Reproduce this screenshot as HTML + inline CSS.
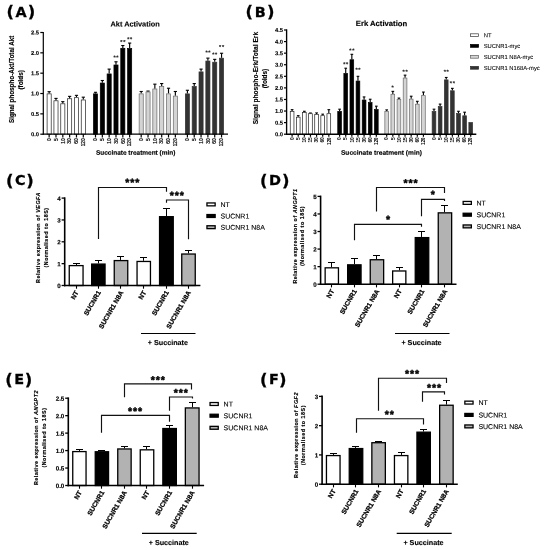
<!DOCTYPE html>
<html lang="en">
<head>
<meta charset="utf-8">
<title>SUCNR1 signalling figure</title>
<style>
html,body{margin:0;padding:0;background:#fff;}
body{width:546px;height:550px;overflow:hidden;}
svg{display:block;font-family:"Liberation Sans",Arial,sans-serif;}
</style>
</head>
<body>
<svg width="546" height="550" viewBox="0 0 546 550">
<rect x="0" y="0" width="546" height="550" fill="#fff"/>
<text font-family='"DejaVu Sans", "Liberation Sans", sans-serif' font-weight="bold" fill="#000" stroke="#000" stroke-width="0.3"><tspan x="6.49" y="17.45" font-size="16.4">(</tspan><tspan x="15.53" y="16.5" font-size="14.4">A</tspan><tspan x="27.69" y="17.45" font-size="16.4">)</tspan></text>
<line x1="49.15" y1="93.52" x2="49.15" y2="91.69" stroke="#000" stroke-width="1.15" stroke-linecap="butt"/>
<line x1="47.55" y1="91.69" x2="50.75" y2="91.69" stroke="#000" stroke-width="1.1" stroke-linecap="butt"/>
<rect x="47.1" y="93.87" width="4.1" height="40.33" fill="#fff" stroke="#222" stroke-width="0.7"/>
<line x1="49.15" y1="134.2" x2="49.15" y2="137.5" stroke="#000" stroke-width="1.2" stroke-linecap="butt"/>
<text x="0" y="0" transform="translate(50.88 138.3) rotate(-90)" font-size="4.8" font-weight="normal" text-anchor="end" fill="#000" stroke="#000" stroke-width="0.2">0</text>
<line x1="55.98" y1="100.44" x2="55.98" y2="98.4" stroke="#000" stroke-width="1.15" stroke-linecap="butt"/>
<line x1="54.38" y1="98.4" x2="57.58" y2="98.4" stroke="#000" stroke-width="1.1" stroke-linecap="butt"/>
<rect x="53.93" y="100.79" width="4.1" height="33.41" fill="#fff" stroke="#222" stroke-width="0.7"/>
<line x1="55.98" y1="134.2" x2="55.98" y2="137.5" stroke="#000" stroke-width="1.2" stroke-linecap="butt"/>
<text x="0" y="0" transform="translate(57.71 138.3) rotate(-90)" font-size="4.8" font-weight="normal" text-anchor="end" fill="#000" stroke="#000" stroke-width="0.2">5</text>
<line x1="62.81" y1="103.45" x2="62.81" y2="101.66" stroke="#000" stroke-width="1.15" stroke-linecap="butt"/>
<line x1="61.21" y1="101.66" x2="64.41" y2="101.66" stroke="#000" stroke-width="1.1" stroke-linecap="butt"/>
<rect x="60.76" y="103.8" width="4.1" height="30.4" fill="#fff" stroke="#222" stroke-width="0.7"/>
<line x1="62.81" y1="134.2" x2="62.81" y2="137.5" stroke="#000" stroke-width="1.2" stroke-linecap="butt"/>
<text x="0" y="0" transform="translate(64.54 138.3) rotate(-90)" font-size="4.8" font-weight="normal" text-anchor="end" fill="#000" stroke="#000" stroke-width="0.2">10</text>
<line x1="69.64" y1="98.4" x2="69.64" y2="96.37" stroke="#000" stroke-width="1.15" stroke-linecap="butt"/>
<line x1="68.04" y1="96.37" x2="71.24" y2="96.37" stroke="#000" stroke-width="1.1" stroke-linecap="butt"/>
<rect x="67.59" y="98.75" width="4.1" height="35.45" fill="#fff" stroke="#222" stroke-width="0.7"/>
<line x1="69.64" y1="134.2" x2="69.64" y2="137.5" stroke="#000" stroke-width="1.2" stroke-linecap="butt"/>
<text x="0" y="0" transform="translate(71.37 138.3) rotate(-90)" font-size="4.8" font-weight="normal" text-anchor="end" fill="#000" stroke="#000" stroke-width="0.2">30</text>
<line x1="76.47" y1="97.34" x2="76.47" y2="95.35" stroke="#000" stroke-width="1.15" stroke-linecap="butt"/>
<line x1="74.87" y1="95.35" x2="78.07" y2="95.35" stroke="#000" stroke-width="1.1" stroke-linecap="butt"/>
<rect x="74.42" y="97.69" width="4.1" height="36.51" fill="#fff" stroke="#222" stroke-width="0.7"/>
<line x1="76.47" y1="134.2" x2="76.47" y2="137.5" stroke="#000" stroke-width="1.2" stroke-linecap="butt"/>
<text x="0" y="0" transform="translate(78.2 138.3) rotate(-90)" font-size="4.8" font-weight="normal" text-anchor="end" fill="#000" stroke="#000" stroke-width="0.2">60</text>
<line x1="83.3" y1="99.62" x2="83.3" y2="97.18" stroke="#000" stroke-width="1.15" stroke-linecap="butt"/>
<line x1="81.7" y1="97.18" x2="84.9" y2="97.18" stroke="#000" stroke-width="1.1" stroke-linecap="butt"/>
<rect x="81.25" y="99.97" width="4.1" height="34.23" fill="#fff" stroke="#222" stroke-width="0.7"/>
<line x1="83.3" y1="134.2" x2="83.3" y2="137.5" stroke="#000" stroke-width="1.2" stroke-linecap="butt"/>
<text x="0" y="0" transform="translate(85.03 138.3) rotate(-90)" font-size="4.8" font-weight="normal" text-anchor="end" fill="#000" stroke="#000" stroke-width="0.2">120</text>
<line x1="95.5" y1="93.52" x2="95.5" y2="92.3" stroke="#000" stroke-width="1.15" stroke-linecap="butt"/>
<line x1="93.9" y1="92.3" x2="97.1" y2="92.3" stroke="#000" stroke-width="1.1" stroke-linecap="butt"/>
<rect x="93.45" y="93.87" width="4.1" height="40.33" fill="#000" stroke="#000" stroke-width="0.7"/>
<line x1="95.5" y1="134.2" x2="95.5" y2="137.5" stroke="#000" stroke-width="1.2" stroke-linecap="butt"/>
<text x="0" y="0" transform="translate(97.23 138.3) rotate(-90)" font-size="4.8" font-weight="normal" text-anchor="end" fill="#000" stroke="#000" stroke-width="0.2">0</text>
<line x1="102.33" y1="82.7" x2="102.33" y2="80.5" stroke="#000" stroke-width="1.15" stroke-linecap="butt"/>
<line x1="100.73" y1="80.5" x2="103.93" y2="80.5" stroke="#000" stroke-width="1.1" stroke-linecap="butt"/>
<rect x="100.28" y="83.05" width="4.1" height="51.15" fill="#000" stroke="#000" stroke-width="0.7"/>
<line x1="102.33" y1="134.2" x2="102.33" y2="137.5" stroke="#000" stroke-width="1.2" stroke-linecap="butt"/>
<text x="0" y="0" transform="translate(104.06 138.3) rotate(-90)" font-size="4.8" font-weight="normal" text-anchor="end" fill="#000" stroke="#000" stroke-width="0.2">5</text>
<line x1="109.16" y1="73.59" x2="109.16" y2="69.11" stroke="#000" stroke-width="1.15" stroke-linecap="butt"/>
<line x1="107.56" y1="69.11" x2="110.76" y2="69.11" stroke="#000" stroke-width="1.1" stroke-linecap="butt"/>
<rect x="107.11" y="73.94" width="4.1" height="60.26" fill="#000" stroke="#000" stroke-width="0.7"/>
<line x1="109.16" y1="134.2" x2="109.16" y2="137.5" stroke="#000" stroke-width="1.2" stroke-linecap="butt"/>
<text x="0" y="0" transform="translate(110.89 138.3) rotate(-90)" font-size="4.8" font-weight="normal" text-anchor="end" fill="#000" stroke="#000" stroke-width="0.2">10</text>
<line x1="115.99" y1="64.64" x2="115.99" y2="61.79" stroke="#000" stroke-width="1.15" stroke-linecap="butt"/>
<line x1="114.39" y1="61.79" x2="117.59" y2="61.79" stroke="#000" stroke-width="1.1" stroke-linecap="butt"/>
<rect x="113.94" y="64.99" width="4.1" height="69.21" fill="#000" stroke="#000" stroke-width="0.7"/>
<line x1="115.99" y1="134.2" x2="115.99" y2="137.5" stroke="#000" stroke-width="1.2" stroke-linecap="butt"/>
<text x="0" y="0" transform="translate(117.72 138.3) rotate(-90)" font-size="4.8" font-weight="normal" text-anchor="end" fill="#000" stroke="#000" stroke-width="0.2">30</text>
<line x1="122.82" y1="47.96" x2="122.82" y2="45.52" stroke="#000" stroke-width="1.15" stroke-linecap="butt"/>
<line x1="121.22" y1="45.52" x2="124.42" y2="45.52" stroke="#000" stroke-width="1.1" stroke-linecap="butt"/>
<rect x="120.77" y="48.31" width="4.1" height="85.89" fill="#000" stroke="#000" stroke-width="0.7"/>
<line x1="122.82" y1="134.2" x2="122.82" y2="137.5" stroke="#000" stroke-width="1.2" stroke-linecap="butt"/>
<text x="0" y="0" transform="translate(124.55 138.3) rotate(-90)" font-size="4.8" font-weight="normal" text-anchor="end" fill="#000" stroke="#000" stroke-width="0.2">60</text>
<line x1="129.65" y1="48.16" x2="129.65" y2="43.08" stroke="#000" stroke-width="1.15" stroke-linecap="butt"/>
<line x1="128.05" y1="43.08" x2="131.25" y2="43.08" stroke="#000" stroke-width="1.1" stroke-linecap="butt"/>
<rect x="127.6" y="48.51" width="4.1" height="85.69" fill="#000" stroke="#000" stroke-width="0.7"/>
<line x1="129.65" y1="134.2" x2="129.65" y2="137.5" stroke="#000" stroke-width="1.2" stroke-linecap="butt"/>
<text x="0" y="0" transform="translate(131.38 138.3) rotate(-90)" font-size="4.8" font-weight="normal" text-anchor="end" fill="#000" stroke="#000" stroke-width="0.2">120</text>
<line x1="141.2" y1="93.52" x2="141.2" y2="91.49" stroke="#000" stroke-width="1.15" stroke-linecap="butt"/>
<line x1="139.6" y1="91.49" x2="142.8" y2="91.49" stroke="#000" stroke-width="1.1" stroke-linecap="butt"/>
<rect x="139.15" y="93.87" width="4.1" height="40.33" fill="#d4d4d4" stroke="#6a6a6a" stroke-width="0.7"/>
<line x1="141.2" y1="134.2" x2="141.2" y2="137.5" stroke="#000" stroke-width="1.2" stroke-linecap="butt"/>
<text x="0" y="0" transform="translate(142.93 138.3) rotate(-90)" font-size="4.8" font-weight="normal" text-anchor="end" fill="#000" stroke="#000" stroke-width="0.2">0</text>
<line x1="148.03" y1="91.61" x2="148.03" y2="91.08" stroke="#000" stroke-width="1.15" stroke-linecap="butt"/>
<line x1="146.43" y1="91.08" x2="149.63" y2="91.08" stroke="#000" stroke-width="1.1" stroke-linecap="butt"/>
<rect x="145.98" y="91.96" width="4.1" height="42.24" fill="#d4d4d4" stroke="#6a6a6a" stroke-width="0.7"/>
<line x1="148.03" y1="134.2" x2="148.03" y2="137.5" stroke="#000" stroke-width="1.2" stroke-linecap="butt"/>
<text x="0" y="0" transform="translate(149.76 138.3) rotate(-90)" font-size="4.8" font-weight="normal" text-anchor="end" fill="#000" stroke="#000" stroke-width="0.2">5</text>
<line x1="154.86" y1="88.64" x2="154.86" y2="84.16" stroke="#000" stroke-width="1.15" stroke-linecap="butt"/>
<line x1="153.26" y1="84.16" x2="156.46" y2="84.16" stroke="#000" stroke-width="1.1" stroke-linecap="butt"/>
<rect x="152.81" y="88.99" width="4.1" height="45.21" fill="#d4d4d4" stroke="#6a6a6a" stroke-width="0.7"/>
<line x1="154.86" y1="134.2" x2="154.86" y2="137.5" stroke="#000" stroke-width="1.2" stroke-linecap="butt"/>
<text x="0" y="0" transform="translate(156.59 138.3) rotate(-90)" font-size="4.8" font-weight="normal" text-anchor="end" fill="#000" stroke="#000" stroke-width="0.2">10</text>
<line x1="161.69" y1="86.2" x2="161.69" y2="83.55" stroke="#000" stroke-width="1.15" stroke-linecap="butt"/>
<line x1="160.09" y1="83.55" x2="163.29" y2="83.55" stroke="#000" stroke-width="1.1" stroke-linecap="butt"/>
<rect x="159.64" y="86.55" width="4.1" height="47.65" fill="#d4d4d4" stroke="#6a6a6a" stroke-width="0.7"/>
<line x1="161.69" y1="134.2" x2="161.69" y2="137.5" stroke="#000" stroke-width="1.2" stroke-linecap="butt"/>
<text x="0" y="0" transform="translate(163.42 138.3) rotate(-90)" font-size="4.8" font-weight="normal" text-anchor="end" fill="#000" stroke="#000" stroke-width="0.2">30</text>
<line x1="168.52" y1="93.52" x2="168.52" y2="88.23" stroke="#000" stroke-width="1.15" stroke-linecap="butt"/>
<line x1="166.92" y1="88.23" x2="170.12" y2="88.23" stroke="#000" stroke-width="1.1" stroke-linecap="butt"/>
<rect x="166.47" y="93.87" width="4.1" height="40.33" fill="#d4d4d4" stroke="#6a6a6a" stroke-width="0.7"/>
<line x1="168.52" y1="134.2" x2="168.52" y2="137.5" stroke="#000" stroke-width="1.2" stroke-linecap="butt"/>
<text x="0" y="0" transform="translate(170.25 138.3) rotate(-90)" font-size="4.8" font-weight="normal" text-anchor="end" fill="#000" stroke="#000" stroke-width="0.2">60</text>
<line x1="175.35" y1="95.76" x2="175.35" y2="91.49" stroke="#000" stroke-width="1.15" stroke-linecap="butt"/>
<line x1="173.75" y1="91.49" x2="176.95" y2="91.49" stroke="#000" stroke-width="1.1" stroke-linecap="butt"/>
<rect x="173.3" y="96.11" width="4.1" height="38.09" fill="#d4d4d4" stroke="#6a6a6a" stroke-width="0.7"/>
<line x1="175.35" y1="134.2" x2="175.35" y2="137.5" stroke="#000" stroke-width="1.2" stroke-linecap="butt"/>
<text x="0" y="0" transform="translate(177.08 138.3) rotate(-90)" font-size="4.8" font-weight="normal" text-anchor="end" fill="#000" stroke="#000" stroke-width="0.2">120</text>
<line x1="187.4" y1="93.52" x2="187.4" y2="90.27" stroke="#000" stroke-width="1.15" stroke-linecap="butt"/>
<line x1="185.8" y1="90.27" x2="189" y2="90.27" stroke="#000" stroke-width="1.1" stroke-linecap="butt"/>
<rect x="185.35" y="93.87" width="4.1" height="40.33" fill="#333" stroke="#333" stroke-width="0.7"/>
<line x1="187.4" y1="134.2" x2="187.4" y2="137.5" stroke="#000" stroke-width="1.2" stroke-linecap="butt"/>
<text x="0" y="0" transform="translate(189.13 138.3) rotate(-90)" font-size="4.8" font-weight="normal" text-anchor="end" fill="#000" stroke="#000" stroke-width="0.2">0</text>
<line x1="194.23" y1="86.2" x2="194.23" y2="83.55" stroke="#000" stroke-width="1.15" stroke-linecap="butt"/>
<line x1="192.63" y1="83.55" x2="195.83" y2="83.55" stroke="#000" stroke-width="1.1" stroke-linecap="butt"/>
<rect x="192.18" y="86.55" width="4.1" height="47.65" fill="#333" stroke="#333" stroke-width="0.7"/>
<line x1="194.23" y1="134.2" x2="194.23" y2="137.5" stroke="#000" stroke-width="1.2" stroke-linecap="butt"/>
<text x="0" y="0" transform="translate(195.96 138.3) rotate(-90)" font-size="4.8" font-weight="normal" text-anchor="end" fill="#000" stroke="#000" stroke-width="0.2">5</text>
<line x1="201.06" y1="71.55" x2="201.06" y2="69.11" stroke="#000" stroke-width="1.15" stroke-linecap="butt"/>
<line x1="199.46" y1="69.11" x2="202.66" y2="69.11" stroke="#000" stroke-width="1.1" stroke-linecap="butt"/>
<rect x="199.01" y="71.9" width="4.1" height="62.3" fill="#333" stroke="#333" stroke-width="0.7"/>
<line x1="201.06" y1="134.2" x2="201.06" y2="137.5" stroke="#000" stroke-width="1.2" stroke-linecap="butt"/>
<text x="0" y="0" transform="translate(202.79 138.3) rotate(-90)" font-size="4.8" font-weight="normal" text-anchor="end" fill="#000" stroke="#000" stroke-width="0.2">10</text>
<line x1="207.89" y1="60.69" x2="207.89" y2="58.13" stroke="#000" stroke-width="1.15" stroke-linecap="butt"/>
<line x1="206.29" y1="58.13" x2="209.49" y2="58.13" stroke="#000" stroke-width="1.1" stroke-linecap="butt"/>
<rect x="205.84" y="61.04" width="4.1" height="73.16" fill="#333" stroke="#333" stroke-width="0.7"/>
<line x1="207.89" y1="134.2" x2="207.89" y2="137.5" stroke="#000" stroke-width="1.2" stroke-linecap="butt"/>
<text x="0" y="0" transform="translate(209.62 138.3) rotate(-90)" font-size="4.8" font-weight="normal" text-anchor="end" fill="#000" stroke="#000" stroke-width="0.2">30</text>
<line x1="214.72" y1="61.87" x2="214.72" y2="59.35" stroke="#000" stroke-width="1.15" stroke-linecap="butt"/>
<line x1="213.12" y1="59.35" x2="216.32" y2="59.35" stroke="#000" stroke-width="1.1" stroke-linecap="butt"/>
<rect x="212.67" y="62.22" width="4.1" height="71.98" fill="#333" stroke="#333" stroke-width="0.7"/>
<line x1="214.72" y1="134.2" x2="214.72" y2="137.5" stroke="#000" stroke-width="1.2" stroke-linecap="butt"/>
<text x="0" y="0" transform="translate(216.45 138.3) rotate(-90)" font-size="4.8" font-weight="normal" text-anchor="end" fill="#000" stroke="#000" stroke-width="0.2">60</text>
<line x1="221.55" y1="57.84" x2="221.55" y2="53.25" stroke="#000" stroke-width="1.15" stroke-linecap="butt"/>
<line x1="219.95" y1="53.25" x2="223.15" y2="53.25" stroke="#000" stroke-width="1.1" stroke-linecap="butt"/>
<rect x="219.5" y="58.19" width="4.1" height="76.01" fill="#333" stroke="#333" stroke-width="0.7"/>
<line x1="221.55" y1="134.2" x2="221.55" y2="137.5" stroke="#000" stroke-width="1.2" stroke-linecap="butt"/>
<text x="0" y="0" transform="translate(223.28 138.3) rotate(-90)" font-size="4.8" font-weight="normal" text-anchor="end" fill="#000" stroke="#000" stroke-width="0.2">120</text>
<line x1="43.3" y1="31.9" x2="43.3" y2="134.8" stroke="#000" stroke-width="1.2" stroke-linecap="butt"/>
<line x1="42.7" y1="134.2" x2="228" y2="134.2" stroke="#000" stroke-width="1.2" stroke-linecap="butt"/>
<line x1="40.3" y1="134.2" x2="43.3" y2="134.2" stroke="#000" stroke-width="1.2" stroke-linecap="butt"/>
<text x="0" y="0" transform="translate(39.1 136.29) rotate(0.1)" font-size="5.8" font-weight="bold" text-anchor="end" fill="#000" stroke="#000" stroke-width="0.1">0.0</text>
<line x1="40.3" y1="113.86" x2="43.3" y2="113.86" stroke="#000" stroke-width="1.2" stroke-linecap="butt"/>
<text x="0" y="0" transform="translate(39.1 115.95) rotate(0.1)" font-size="5.8" font-weight="bold" text-anchor="end" fill="#000" stroke="#000" stroke-width="0.1">0.5</text>
<line x1="40.3" y1="93.52" x2="43.3" y2="93.52" stroke="#000" stroke-width="1.2" stroke-linecap="butt"/>
<text x="0" y="0" transform="translate(39.1 95.61) rotate(0.1)" font-size="5.8" font-weight="bold" text-anchor="end" fill="#000" stroke="#000" stroke-width="0.1">1.0</text>
<line x1="40.3" y1="73.18" x2="43.3" y2="73.18" stroke="#000" stroke-width="1.2" stroke-linecap="butt"/>
<text x="0" y="0" transform="translate(39.1 75.27) rotate(0.1)" font-size="5.8" font-weight="bold" text-anchor="end" fill="#000" stroke="#000" stroke-width="0.1">1.5</text>
<line x1="40.3" y1="52.84" x2="43.3" y2="52.84" stroke="#000" stroke-width="1.2" stroke-linecap="butt"/>
<text x="0" y="0" transform="translate(39.1 54.93) rotate(0.1)" font-size="5.8" font-weight="bold" text-anchor="end" fill="#000" stroke="#000" stroke-width="0.1">2.0</text>
<line x1="40.3" y1="32.5" x2="43.3" y2="32.5" stroke="#000" stroke-width="1.2" stroke-linecap="butt"/>
<text x="0" y="0" transform="translate(39.1 34.59) rotate(0.1)" font-size="5.8" font-weight="bold" text-anchor="end" fill="#000" stroke="#000" stroke-width="0.1">2.5</text>
<text x="0" y="0" transform="translate(135.1 26.5) rotate(0.1)" font-size="7.35" font-weight="bold" text-anchor="middle" fill="#000" stroke="#000" stroke-width="0.14">Akt Activation</text>
<text x="0" y="0" transform="translate(14.2 79.35) rotate(-90)" font-size="6.3" font-weight="bold" text-anchor="middle" fill="#000" stroke="#000" stroke-width="0.14">Signal phospho-Akt/Total Akt</text>
<text x="0" y="0" transform="translate(23 79.85) rotate(-90)" font-size="6.3" font-weight="bold" text-anchor="middle" fill="#000" stroke="#000" stroke-width="0.14">(folds)</text>
<text x="0" y="0" transform="translate(135.65 154.7) rotate(0.1)" font-size="6.48" font-weight="bold" text-anchor="middle" fill="#000" stroke="#000" stroke-width="0.14">Succinate treatment (min)</text>
<text x="0" y="0" transform="translate(116.34 59.2) rotate(0.1)" font-size="5.5" font-weight="bold" text-anchor="middle" fill="#111" letter-spacing="0.7" stroke="#111" stroke-width="0.15">**</text>
<text x="0" y="0" transform="translate(123.17 43.8) rotate(0.1)" font-size="5.5" font-weight="bold" text-anchor="middle" fill="#111" letter-spacing="0.7" stroke="#111" stroke-width="0.15">**</text>
<text x="0" y="0" transform="translate(130 41.1) rotate(0.1)" font-size="5.5" font-weight="bold" text-anchor="middle" fill="#111" letter-spacing="0.7" stroke="#111" stroke-width="0.15">**</text>
<text x="0" y="0" transform="translate(208.24 54.2) rotate(0.1)" font-size="5.5" font-weight="bold" text-anchor="middle" fill="#111" letter-spacing="0.7" stroke="#111" stroke-width="0.15">**</text>
<text x="0" y="0" transform="translate(215.07 56.2) rotate(0.1)" font-size="5.5" font-weight="bold" text-anchor="middle" fill="#111" letter-spacing="0.7" stroke="#111" stroke-width="0.15">**</text>
<text x="0" y="0" transform="translate(221.9 48.7) rotate(0.1)" font-size="5.5" font-weight="bold" text-anchor="middle" fill="#111" letter-spacing="0.7" stroke="#111" stroke-width="0.15">**</text>
<text font-family='"DejaVu Sans", "Liberation Sans", sans-serif' font-weight="bold" fill="#000" stroke="#000" stroke-width="0.3"><tspan x="245.59" y="17.45" font-size="16.4">(</tspan><tspan x="254.68" y="16.5" font-size="14.4">B</tspan><tspan x="267.09" y="17.45" font-size="16.4">)</tspan></text>
<line x1="292.1" y1="111.04" x2="292.1" y2="109.66" stroke="#000" stroke-width="1.15" stroke-linecap="butt"/>
<line x1="290.75" y1="109.66" x2="293.45" y2="109.66" stroke="#000" stroke-width="1.1" stroke-linecap="butt"/>
<rect x="290.25" y="111.39" width="3.7" height="22.81" fill="#fff" stroke="#222" stroke-width="0.7"/>
<line x1="292.1" y1="134.2" x2="292.1" y2="136.8" stroke="#000" stroke-width="1.2" stroke-linecap="butt"/>
<text x="0" y="0" transform="translate(293.86 137.7) rotate(-90)" font-size="4.9" font-weight="bold" text-anchor="end" fill="#000" letter-spacing="-0.3" stroke="none">0</text>
<line x1="298.22" y1="116.83" x2="298.22" y2="115.68" stroke="#000" stroke-width="1.15" stroke-linecap="butt"/>
<line x1="296.87" y1="115.68" x2="299.57" y2="115.68" stroke="#000" stroke-width="1.1" stroke-linecap="butt"/>
<rect x="296.37" y="117.18" width="3.7" height="17.02" fill="#fff" stroke="#222" stroke-width="0.7"/>
<line x1="298.22" y1="134.2" x2="298.22" y2="136.8" stroke="#000" stroke-width="1.2" stroke-linecap="butt"/>
<text x="0" y="0" transform="translate(299.98 137.7) rotate(-90)" font-size="4.9" font-weight="bold" text-anchor="end" fill="#000" letter-spacing="-0.3" stroke="none">5</text>
<line x1="304.34" y1="112.2" x2="304.34" y2="111.28" stroke="#000" stroke-width="1.15" stroke-linecap="butt"/>
<line x1="302.99" y1="111.28" x2="305.69" y2="111.28" stroke="#000" stroke-width="1.1" stroke-linecap="butt"/>
<rect x="302.49" y="112.55" width="3.7" height="21.65" fill="#fff" stroke="#222" stroke-width="0.7"/>
<line x1="304.34" y1="134.2" x2="304.34" y2="136.8" stroke="#000" stroke-width="1.2" stroke-linecap="butt"/>
<text x="0" y="0" transform="translate(306.1 137.7) rotate(-90)" font-size="4.9" font-weight="bold" text-anchor="end" fill="#000" letter-spacing="-0.3" stroke="none">10</text>
<line x1="310.46" y1="113.36" x2="310.46" y2="113.01" stroke="#000" stroke-width="1.15" stroke-linecap="butt"/>
<line x1="309.11" y1="113.01" x2="311.81" y2="113.01" stroke="#000" stroke-width="1.1" stroke-linecap="butt"/>
<rect x="308.61" y="113.71" width="3.7" height="20.49" fill="#fff" stroke="#222" stroke-width="0.7"/>
<line x1="310.46" y1="134.2" x2="310.46" y2="136.8" stroke="#000" stroke-width="1.2" stroke-linecap="butt"/>
<text x="0" y="0" transform="translate(312.22 137.7) rotate(-90)" font-size="4.9" font-weight="bold" text-anchor="end" fill="#000" letter-spacing="-0.3" stroke="none">15</text>
<line x1="316.58" y1="114.05" x2="316.58" y2="112.9" stroke="#000" stroke-width="1.15" stroke-linecap="butt"/>
<line x1="315.23" y1="112.9" x2="317.93" y2="112.9" stroke="#000" stroke-width="1.1" stroke-linecap="butt"/>
<rect x="314.73" y="114.4" width="3.7" height="19.8" fill="#fff" stroke="#222" stroke-width="0.7"/>
<line x1="316.58" y1="134.2" x2="316.58" y2="136.8" stroke="#000" stroke-width="1.2" stroke-linecap="butt"/>
<text x="0" y="0" transform="translate(318.34 137.7) rotate(-90)" font-size="4.9" font-weight="bold" text-anchor="end" fill="#000" letter-spacing="-0.3" stroke="none">30</text>
<line x1="322.7" y1="115.33" x2="322.7" y2="114.17" stroke="#000" stroke-width="1.15" stroke-linecap="butt"/>
<line x1="321.35" y1="114.17" x2="324.05" y2="114.17" stroke="#000" stroke-width="1.1" stroke-linecap="butt"/>
<rect x="320.85" y="115.68" width="3.7" height="18.52" fill="#fff" stroke="#222" stroke-width="0.7"/>
<line x1="322.7" y1="134.2" x2="322.7" y2="136.8" stroke="#000" stroke-width="1.2" stroke-linecap="butt"/>
<text x="0" y="0" transform="translate(324.46 137.7) rotate(-90)" font-size="4.9" font-weight="bold" text-anchor="end" fill="#000" letter-spacing="-0.3" stroke="none">60</text>
<line x1="328.82" y1="113.36" x2="328.82" y2="109.66" stroke="#000" stroke-width="1.15" stroke-linecap="butt"/>
<line x1="327.47" y1="109.66" x2="330.17" y2="109.66" stroke="#000" stroke-width="1.1" stroke-linecap="butt"/>
<rect x="326.97" y="113.71" width="3.7" height="20.49" fill="#fff" stroke="#222" stroke-width="0.7"/>
<line x1="328.82" y1="134.2" x2="328.82" y2="136.8" stroke="#000" stroke-width="1.2" stroke-linecap="butt"/>
<text x="0" y="0" transform="translate(330.58 137.7) rotate(-90)" font-size="4.9" font-weight="bold" text-anchor="end" fill="#000" letter-spacing="-0.3" stroke="none">120</text>
<line x1="339.6" y1="111.04" x2="339.6" y2="109.19" stroke="#000" stroke-width="1.15" stroke-linecap="butt"/>
<line x1="338.25" y1="109.19" x2="340.95" y2="109.19" stroke="#000" stroke-width="1.1" stroke-linecap="butt"/>
<rect x="337.75" y="111.39" width="3.7" height="22.81" fill="#000" stroke="#000" stroke-width="0.7"/>
<line x1="339.6" y1="134.2" x2="339.6" y2="136.8" stroke="#000" stroke-width="1.2" stroke-linecap="butt"/>
<text x="0" y="0" transform="translate(341.36 137.7) rotate(-90)" font-size="4.9" font-weight="bold" text-anchor="end" fill="#000" letter-spacing="-0.3" stroke="none">0</text>
<line x1="345.72" y1="73.07" x2="345.72" y2="68.21" stroke="#000" stroke-width="1.15" stroke-linecap="butt"/>
<line x1="344.37" y1="68.21" x2="347.07" y2="68.21" stroke="#000" stroke-width="1.1" stroke-linecap="butt"/>
<rect x="343.87" y="73.42" width="3.7" height="60.78" fill="#000" stroke="#000" stroke-width="0.7"/>
<line x1="345.72" y1="134.2" x2="345.72" y2="136.8" stroke="#000" stroke-width="1.2" stroke-linecap="butt"/>
<text x="0" y="0" transform="translate(347.48 137.7) rotate(-90)" font-size="4.9" font-weight="bold" text-anchor="end" fill="#000" letter-spacing="-0.3" stroke="none">5</text>
<line x1="351.84" y1="59.41" x2="351.84" y2="54.31" stroke="#000" stroke-width="1.15" stroke-linecap="butt"/>
<line x1="350.49" y1="54.31" x2="353.19" y2="54.31" stroke="#000" stroke-width="1.1" stroke-linecap="butt"/>
<rect x="349.99" y="59.76" width="3.7" height="74.44" fill="#000" stroke="#000" stroke-width="0.7"/>
<line x1="351.84" y1="134.2" x2="351.84" y2="136.8" stroke="#000" stroke-width="1.2" stroke-linecap="butt"/>
<text x="0" y="0" transform="translate(353.6 137.7) rotate(-90)" font-size="4.9" font-weight="bold" text-anchor="end" fill="#000" letter-spacing="-0.3" stroke="none">10</text>
<line x1="357.96" y1="80.71" x2="357.96" y2="76.31" stroke="#000" stroke-width="1.15" stroke-linecap="butt"/>
<line x1="356.61" y1="76.31" x2="359.31" y2="76.31" stroke="#000" stroke-width="1.1" stroke-linecap="butt"/>
<rect x="356.11" y="81.06" width="3.7" height="53.14" fill="#000" stroke="#000" stroke-width="0.7"/>
<line x1="357.96" y1="134.2" x2="357.96" y2="136.8" stroke="#000" stroke-width="1.2" stroke-linecap="butt"/>
<text x="0" y="0" transform="translate(359.72 137.7) rotate(-90)" font-size="4.9" font-weight="bold" text-anchor="end" fill="#000" letter-spacing="-0.3" stroke="none">15</text>
<line x1="364.08" y1="99.7" x2="364.08" y2="96.92" stroke="#000" stroke-width="1.15" stroke-linecap="butt"/>
<line x1="362.73" y1="96.92" x2="365.43" y2="96.92" stroke="#000" stroke-width="1.1" stroke-linecap="butt"/>
<rect x="362.23" y="100.05" width="3.7" height="34.15" fill="#000" stroke="#000" stroke-width="0.7"/>
<line x1="364.08" y1="134.2" x2="364.08" y2="136.8" stroke="#000" stroke-width="1.2" stroke-linecap="butt"/>
<text x="0" y="0" transform="translate(365.84 137.7) rotate(-90)" font-size="4.9" font-weight="bold" text-anchor="end" fill="#000" letter-spacing="-0.3" stroke="none">30</text>
<line x1="370.2" y1="102.25" x2="370.2" y2="99.24" stroke="#000" stroke-width="1.15" stroke-linecap="butt"/>
<line x1="368.85" y1="99.24" x2="371.55" y2="99.24" stroke="#000" stroke-width="1.1" stroke-linecap="butt"/>
<rect x="368.35" y="102.6" width="3.7" height="31.6" fill="#000" stroke="#000" stroke-width="0.7"/>
<line x1="370.2" y1="134.2" x2="370.2" y2="136.8" stroke="#000" stroke-width="1.2" stroke-linecap="butt"/>
<text x="0" y="0" transform="translate(371.96 137.7) rotate(-90)" font-size="4.9" font-weight="bold" text-anchor="end" fill="#000" letter-spacing="-0.3" stroke="none">60</text>
<line x1="376.32" y1="109.19" x2="376.32" y2="106.18" stroke="#000" stroke-width="1.15" stroke-linecap="butt"/>
<line x1="374.97" y1="106.18" x2="377.67" y2="106.18" stroke="#000" stroke-width="1.1" stroke-linecap="butt"/>
<rect x="374.47" y="109.54" width="3.7" height="24.66" fill="#000" stroke="#000" stroke-width="0.7"/>
<line x1="376.32" y1="134.2" x2="376.32" y2="136.8" stroke="#000" stroke-width="1.2" stroke-linecap="butt"/>
<text x="0" y="0" transform="translate(378.08 137.7) rotate(-90)" font-size="4.9" font-weight="bold" text-anchor="end" fill="#000" letter-spacing="-0.3" stroke="none">120</text>
<line x1="386.7" y1="111.04" x2="386.7" y2="109.89" stroke="#000" stroke-width="1.15" stroke-linecap="butt"/>
<line x1="385.35" y1="109.89" x2="388.05" y2="109.89" stroke="#000" stroke-width="1.1" stroke-linecap="butt"/>
<rect x="384.85" y="111.39" width="3.7" height="22.81" fill="#d4d4d4" stroke="#6a6a6a" stroke-width="0.7"/>
<line x1="386.7" y1="134.2" x2="386.7" y2="136.8" stroke="#000" stroke-width="1.2" stroke-linecap="butt"/>
<text x="0" y="0" transform="translate(388.46 137.7) rotate(-90)" font-size="4.9" font-weight="bold" text-anchor="end" fill="#000" letter-spacing="-0.3" stroke="none">0</text>
<line x1="392.82" y1="93.91" x2="392.82" y2="91.36" stroke="#000" stroke-width="1.15" stroke-linecap="butt"/>
<line x1="391.47" y1="91.36" x2="394.17" y2="91.36" stroke="#000" stroke-width="1.1" stroke-linecap="butt"/>
<rect x="390.97" y="94.26" width="3.7" height="39.94" fill="#d4d4d4" stroke="#6a6a6a" stroke-width="0.7"/>
<line x1="392.82" y1="134.2" x2="392.82" y2="136.8" stroke="#000" stroke-width="1.2" stroke-linecap="butt"/>
<text x="0" y="0" transform="translate(394.58 137.7) rotate(-90)" font-size="4.9" font-weight="bold" text-anchor="end" fill="#000" letter-spacing="-0.3" stroke="none">5</text>
<line x1="398.94" y1="99.24" x2="398.94" y2="98.08" stroke="#000" stroke-width="1.15" stroke-linecap="butt"/>
<line x1="397.59" y1="98.08" x2="400.29" y2="98.08" stroke="#000" stroke-width="1.1" stroke-linecap="butt"/>
<rect x="397.09" y="99.59" width="3.7" height="34.61" fill="#d4d4d4" stroke="#6a6a6a" stroke-width="0.7"/>
<line x1="398.94" y1="134.2" x2="398.94" y2="136.8" stroke="#000" stroke-width="1.2" stroke-linecap="butt"/>
<text x="0" y="0" transform="translate(400.7 137.7) rotate(-90)" font-size="4.9" font-weight="bold" text-anchor="end" fill="#000" letter-spacing="-0.3" stroke="none">10</text>
<line x1="405.06" y1="77.7" x2="405.06" y2="75.15" stroke="#000" stroke-width="1.15" stroke-linecap="butt"/>
<line x1="403.71" y1="75.15" x2="406.41" y2="75.15" stroke="#000" stroke-width="1.1" stroke-linecap="butt"/>
<rect x="403.21" y="78.05" width="3.7" height="56.15" fill="#d4d4d4" stroke="#6a6a6a" stroke-width="0.7"/>
<line x1="405.06" y1="134.2" x2="405.06" y2="136.8" stroke="#000" stroke-width="1.2" stroke-linecap="butt"/>
<text x="0" y="0" transform="translate(406.82 137.7) rotate(-90)" font-size="4.9" font-weight="bold" text-anchor="end" fill="#000" letter-spacing="-0.3" stroke="none">15</text>
<line x1="411.18" y1="98.77" x2="411.18" y2="96.22" stroke="#000" stroke-width="1.15" stroke-linecap="butt"/>
<line x1="409.83" y1="96.22" x2="412.53" y2="96.22" stroke="#000" stroke-width="1.1" stroke-linecap="butt"/>
<rect x="409.33" y="99.12" width="3.7" height="35.08" fill="#d4d4d4" stroke="#6a6a6a" stroke-width="0.7"/>
<line x1="411.18" y1="134.2" x2="411.18" y2="136.8" stroke="#000" stroke-width="1.2" stroke-linecap="butt"/>
<text x="0" y="0" transform="translate(412.94 137.7) rotate(-90)" font-size="4.9" font-weight="bold" text-anchor="end" fill="#000" letter-spacing="-0.3" stroke="none">30</text>
<line x1="417.3" y1="103.87" x2="417.3" y2="101.32" stroke="#000" stroke-width="1.15" stroke-linecap="butt"/>
<line x1="415.95" y1="101.32" x2="418.65" y2="101.32" stroke="#000" stroke-width="1.1" stroke-linecap="butt"/>
<rect x="415.45" y="104.22" width="3.7" height="29.98" fill="#d4d4d4" stroke="#6a6a6a" stroke-width="0.7"/>
<line x1="417.3" y1="134.2" x2="417.3" y2="136.8" stroke="#000" stroke-width="1.2" stroke-linecap="butt"/>
<text x="0" y="0" transform="translate(419.06 137.7) rotate(-90)" font-size="4.9" font-weight="bold" text-anchor="end" fill="#000" letter-spacing="-0.3" stroke="none">60</text>
<line x1="423.42" y1="95.3" x2="423.42" y2="92.06" stroke="#000" stroke-width="1.15" stroke-linecap="butt"/>
<line x1="422.07" y1="92.06" x2="424.77" y2="92.06" stroke="#000" stroke-width="1.1" stroke-linecap="butt"/>
<rect x="421.57" y="95.65" width="3.7" height="38.55" fill="#d4d4d4" stroke="#6a6a6a" stroke-width="0.7"/>
<line x1="423.42" y1="134.2" x2="423.42" y2="136.8" stroke="#000" stroke-width="1.2" stroke-linecap="butt"/>
<text x="0" y="0" transform="translate(425.18 137.7) rotate(-90)" font-size="4.9" font-weight="bold" text-anchor="end" fill="#000" letter-spacing="-0.3" stroke="none">120</text>
<line x1="434" y1="111.04" x2="434" y2="109.19" stroke="#000" stroke-width="1.15" stroke-linecap="butt"/>
<line x1="432.65" y1="109.19" x2="435.35" y2="109.19" stroke="#000" stroke-width="1.1" stroke-linecap="butt"/>
<rect x="432.15" y="111.39" width="3.7" height="22.81" fill="#333" stroke="#333" stroke-width="0.7"/>
<line x1="434" y1="134.2" x2="434" y2="136.8" stroke="#000" stroke-width="1.2" stroke-linecap="butt"/>
<text x="0" y="0" transform="translate(435.76 137.7) rotate(-90)" font-size="4.9" font-weight="bold" text-anchor="end" fill="#000" letter-spacing="-0.3" stroke="none">0</text>
<line x1="440.12" y1="106.18" x2="440.12" y2="104.1" stroke="#000" stroke-width="1.15" stroke-linecap="butt"/>
<line x1="438.77" y1="104.1" x2="441.47" y2="104.1" stroke="#000" stroke-width="1.1" stroke-linecap="butt"/>
<rect x="438.27" y="106.53" width="3.7" height="27.67" fill="#333" stroke="#333" stroke-width="0.7"/>
<line x1="440.12" y1="134.2" x2="440.12" y2="136.8" stroke="#000" stroke-width="1.2" stroke-linecap="butt"/>
<text x="0" y="0" transform="translate(441.88 137.7) rotate(-90)" font-size="4.9" font-weight="bold" text-anchor="end" fill="#000" letter-spacing="-0.3" stroke="none">5</text>
<line x1="446.24" y1="79.55" x2="446.24" y2="77.47" stroke="#000" stroke-width="1.15" stroke-linecap="butt"/>
<line x1="444.89" y1="77.47" x2="447.59" y2="77.47" stroke="#000" stroke-width="1.1" stroke-linecap="butt"/>
<rect x="444.39" y="79.9" width="3.7" height="54.3" fill="#333" stroke="#333" stroke-width="0.7"/>
<line x1="446.24" y1="134.2" x2="446.24" y2="136.8" stroke="#000" stroke-width="1.2" stroke-linecap="butt"/>
<text x="0" y="0" transform="translate(448 137.7) rotate(-90)" font-size="4.9" font-weight="bold" text-anchor="end" fill="#000" letter-spacing="-0.3" stroke="none">10</text>
<line x1="452.36" y1="90.44" x2="452.36" y2="88.35" stroke="#000" stroke-width="1.15" stroke-linecap="butt"/>
<line x1="451.01" y1="88.35" x2="453.71" y2="88.35" stroke="#000" stroke-width="1.1" stroke-linecap="butt"/>
<rect x="450.51" y="90.79" width="3.7" height="43.41" fill="#333" stroke="#333" stroke-width="0.7"/>
<line x1="452.36" y1="134.2" x2="452.36" y2="136.8" stroke="#000" stroke-width="1.2" stroke-linecap="butt"/>
<text x="0" y="0" transform="translate(454.12 137.7) rotate(-90)" font-size="4.9" font-weight="bold" text-anchor="end" fill="#000" letter-spacing="-0.3" stroke="none">15</text>
<line x1="458.48" y1="113.13" x2="458.48" y2="111.28" stroke="#000" stroke-width="1.15" stroke-linecap="butt"/>
<line x1="457.13" y1="111.28" x2="459.83" y2="111.28" stroke="#000" stroke-width="1.1" stroke-linecap="butt"/>
<rect x="456.63" y="113.48" width="3.7" height="20.72" fill="#333" stroke="#333" stroke-width="0.7"/>
<line x1="458.48" y1="134.2" x2="458.48" y2="136.8" stroke="#000" stroke-width="1.2" stroke-linecap="butt"/>
<text x="0" y="0" transform="translate(460.24 137.7) rotate(-90)" font-size="4.9" font-weight="bold" text-anchor="end" fill="#000" letter-spacing="-0.3" stroke="none">30</text>
<line x1="464.6" y1="115.44" x2="464.6" y2="112.2" stroke="#000" stroke-width="1.15" stroke-linecap="butt"/>
<line x1="463.25" y1="112.2" x2="465.95" y2="112.2" stroke="#000" stroke-width="1.1" stroke-linecap="butt"/>
<rect x="462.75" y="115.79" width="3.7" height="18.41" fill="#333" stroke="#333" stroke-width="0.7"/>
<line x1="464.6" y1="134.2" x2="464.6" y2="136.8" stroke="#000" stroke-width="1.2" stroke-linecap="butt"/>
<text x="0" y="0" transform="translate(466.36 137.7) rotate(-90)" font-size="4.9" font-weight="bold" text-anchor="end" fill="#000" letter-spacing="-0.3" stroke="none">60</text>
<rect x="468.87" y="122.51" width="3.7" height="11.69" fill="#333" stroke="#333" stroke-width="0.7"/>
<line x1="470.72" y1="134.2" x2="470.72" y2="136.8" stroke="#000" stroke-width="1.2" stroke-linecap="butt"/>
<text x="0" y="0" transform="translate(472.48 137.7) rotate(-90)" font-size="4.9" font-weight="bold" text-anchor="end" fill="#000" letter-spacing="-0.3" stroke="none">120</text>
<line x1="286.6" y1="29.32" x2="286.6" y2="134.88" stroke="#000" stroke-width="1.35" stroke-linecap="butt"/>
<line x1="285.93" y1="134.2" x2="476.3" y2="134.2" stroke="#000" stroke-width="1.35" stroke-linecap="butt"/>
<line x1="284" y1="134.2" x2="286.6" y2="134.2" stroke="#000" stroke-width="1.2" stroke-linecap="butt"/>
<text x="0" y="0" transform="translate(283.1 136.29) rotate(0.1)" font-size="5.8" font-weight="bold" text-anchor="end" fill="#000" stroke="#000" stroke-width="0.1">0.0</text>
<line x1="284" y1="122.62" x2="286.6" y2="122.62" stroke="#000" stroke-width="1.2" stroke-linecap="butt"/>
<text x="0" y="0" transform="translate(283.1 124.71) rotate(0.1)" font-size="5.8" font-weight="bold" text-anchor="end" fill="#000" stroke="#000" stroke-width="0.1">0.5</text>
<line x1="284" y1="111.04" x2="286.6" y2="111.04" stroke="#000" stroke-width="1.2" stroke-linecap="butt"/>
<text x="0" y="0" transform="translate(283.1 113.13) rotate(0.1)" font-size="5.8" font-weight="bold" text-anchor="end" fill="#000" stroke="#000" stroke-width="0.1">1.0</text>
<line x1="284" y1="99.47" x2="286.6" y2="99.47" stroke="#000" stroke-width="1.2" stroke-linecap="butt"/>
<text x="0" y="0" transform="translate(283.1 101.55) rotate(0.1)" font-size="5.8" font-weight="bold" text-anchor="end" fill="#000" stroke="#000" stroke-width="0.1">1.5</text>
<line x1="284" y1="87.89" x2="286.6" y2="87.89" stroke="#000" stroke-width="1.2" stroke-linecap="butt"/>
<text x="0" y="0" transform="translate(283.1 89.98) rotate(0.1)" font-size="5.8" font-weight="bold" text-anchor="end" fill="#000" stroke="#000" stroke-width="0.1">2.0</text>
<line x1="284" y1="76.31" x2="286.6" y2="76.31" stroke="#000" stroke-width="1.2" stroke-linecap="butt"/>
<text x="0" y="0" transform="translate(283.1 78.4) rotate(0.1)" font-size="5.8" font-weight="bold" text-anchor="end" fill="#000" stroke="#000" stroke-width="0.1">2.5</text>
<line x1="284" y1="64.73" x2="286.6" y2="64.73" stroke="#000" stroke-width="1.2" stroke-linecap="butt"/>
<text x="0" y="0" transform="translate(283.1 66.82) rotate(0.1)" font-size="5.8" font-weight="bold" text-anchor="end" fill="#000" stroke="#000" stroke-width="0.1">3.0</text>
<line x1="284" y1="53.16" x2="286.6" y2="53.16" stroke="#000" stroke-width="1.2" stroke-linecap="butt"/>
<text x="0" y="0" transform="translate(283.1 55.24) rotate(0.1)" font-size="5.8" font-weight="bold" text-anchor="end" fill="#000" stroke="#000" stroke-width="0.1">3.5</text>
<line x1="284" y1="41.58" x2="286.6" y2="41.58" stroke="#000" stroke-width="1.2" stroke-linecap="butt"/>
<text x="0" y="0" transform="translate(283.1 43.67) rotate(0.1)" font-size="5.8" font-weight="bold" text-anchor="end" fill="#000" stroke="#000" stroke-width="0.1">4.0</text>
<line x1="284" y1="30" x2="286.6" y2="30" stroke="#000" stroke-width="1.2" stroke-linecap="butt"/>
<text x="0" y="0" transform="translate(283.1 32.09) rotate(0.1)" font-size="5.8" font-weight="bold" text-anchor="end" fill="#000" stroke="#000" stroke-width="0.1">4.5</text>
<text x="0" y="0" transform="translate(381.5 26.1) rotate(0.1)" font-size="7.7" font-weight="bold" text-anchor="middle" fill="#000" stroke="#000" stroke-width="0.14">Erk Activation</text>
<text x="0" y="0" transform="translate(257.8 78.1) rotate(-90)" font-size="6.65" font-weight="bold" text-anchor="middle" fill="#000" stroke="#000" stroke-width="0.14">Signal phospho-Erk/Total Erk</text>
<text x="0" y="0" transform="translate(266.9 78.6) rotate(-90)" font-size="6.4" font-weight="bold" text-anchor="middle" fill="#000" stroke="#000" stroke-width="0.14">(folds)</text>
<text x="0" y="0" transform="translate(381.45 154.7) rotate(0.1)" font-size="6.6" font-weight="bold" text-anchor="middle" fill="#000" stroke="#000" stroke-width="0.14">Succinate treatment (min)</text>
<text x="0" y="0" transform="translate(346.07 66) rotate(0.1)" font-size="5.5" font-weight="bold" text-anchor="middle" fill="#111" letter-spacing="0.7" stroke="#111" stroke-width="0.15">**</text>
<text x="0" y="0" transform="translate(352.19 52.3) rotate(0.1)" font-size="5.5" font-weight="bold" text-anchor="middle" fill="#111" letter-spacing="0.7" stroke="#111" stroke-width="0.15">**</text>
<text x="0" y="0" transform="translate(358.31 71.4) rotate(0.1)" font-size="5.5" font-weight="bold" text-anchor="middle" fill="#111" letter-spacing="0.7" stroke="#111" stroke-width="0.15">**</text>
<text x="0" y="0" transform="translate(392.82 89.3) rotate(0.1)" font-size="5.5" font-weight="bold" text-anchor="middle" fill="#111" letter-spacing="0.7" stroke="#111" stroke-width="0.15">*</text>
<text x="0" y="0" transform="translate(405.41 73.6) rotate(0.1)" font-size="5.5" font-weight="bold" text-anchor="middle" fill="#111" letter-spacing="0.7" stroke="#111" stroke-width="0.15">**</text>
<text x="0" y="0" transform="translate(446.59 73.6) rotate(0.1)" font-size="5.5" font-weight="bold" text-anchor="middle" fill="#111" letter-spacing="0.7" stroke="#111" stroke-width="0.15">**</text>
<text x="0" y="0" transform="translate(452.71 85.1) rotate(0.1)" font-size="5.5" font-weight="bold" text-anchor="middle" fill="#111" letter-spacing="0.7" stroke="#111" stroke-width="0.15">**</text>
<rect x="470.6" y="33.8" width="8" height="2.8" fill="#fff" stroke="#444" stroke-width="0.75"/>
<text x="0" y="0" transform="translate(483.7 37.3) rotate(0.1)" font-size="5.84" font-weight="normal" text-anchor="start" fill="#000" stroke="#000" stroke-width="0.08">NT</text>
<rect x="470.6" y="44.5" width="8" height="2.8" fill="#000" stroke="#000" stroke-width="0.75"/>
<text x="0" y="0" transform="translate(483.7 48) rotate(0.1)" font-size="5.84" font-weight="normal" text-anchor="start" fill="#000" stroke="#000" stroke-width="0.08">SUCNR1-myc</text>
<rect x="470.6" y="55.4" width="8" height="2.8" fill="#d4d4d4" stroke="#666" stroke-width="0.75"/>
<text x="0" y="0" transform="translate(483.7 58.9) rotate(0.1)" font-size="5.84" font-weight="normal" text-anchor="start" fill="#000" stroke="#000" stroke-width="0.08">SUCNR1 N8A-myc</text>
<rect x="470.6" y="66.4" width="8" height="2.8" fill="#333" stroke="#333" stroke-width="0.75"/>
<text x="0" y="0" transform="translate(483.7 69.9) rotate(0.1)" font-size="5.84" font-weight="normal" text-anchor="start" fill="#000" stroke="#000" stroke-width="0.08">SUCNR1 N168A-myc</text>
<text font-family='"DejaVu Sans", "Liberation Sans", sans-serif' font-weight="bold" fill="#000" stroke="#000" stroke-width="0.3"><tspan x="5.89" y="186.25" font-size="16.4">(</tspan><tspan x="14.88" y="185.3" font-size="14.4">C</tspan><tspan x="26.19" y="186.25" font-size="16.4">)</tspan></text>
<line x1="76.5" y1="264.96" x2="76.5" y2="263.5" stroke="#000" stroke-width="1" stroke-linecap="butt"/>
<line x1="73" y1="263.5" x2="80" y2="263.5" stroke="#000" stroke-width="1" stroke-linecap="butt"/>
<rect x="69.25" y="265.61" width="13.8" height="19.89" fill="#fff" stroke="#000" stroke-width="1.3"/>
<line x1="76.5" y1="285.5" x2="76.5" y2="288.7" stroke="#000" stroke-width="1.1" stroke-linecap="butt"/>
<text x="0" y="0" transform="translate(78.85 292.4) rotate(-60)" font-size="6.65" font-weight="bold" text-anchor="end" fill="#000" stroke="#000" stroke-width="0.25">NT</text>
<line x1="98.5" y1="263.43" x2="98.5" y2="260.5" stroke="#000" stroke-width="1" stroke-linecap="butt"/>
<line x1="95" y1="260.5" x2="102" y2="260.5" stroke="#000" stroke-width="1" stroke-linecap="butt"/>
<rect x="91.65" y="264.08" width="13.4" height="21.42" fill="#000" stroke="#000" stroke-width="1.3"/>
<line x1="98.5" y1="285.5" x2="98.5" y2="288.7" stroke="#000" stroke-width="1.1" stroke-linecap="butt"/>
<text x="0" y="0" transform="translate(101.05 292.4) rotate(-60)" font-size="6.65" font-weight="bold" text-anchor="end" fill="#000" stroke="#000" stroke-width="0.25">SUCNR1</text>
<line x1="120.5" y1="259.94" x2="120.5" y2="256.5" stroke="#000" stroke-width="1" stroke-linecap="butt"/>
<line x1="117" y1="256.5" x2="124" y2="256.5" stroke="#000" stroke-width="1" stroke-linecap="butt"/>
<rect x="114.25" y="260.59" width="13.5" height="24.91" fill="#b2b2b2" stroke="#000" stroke-width="1.3"/>
<line x1="120.5" y1="285.5" x2="120.5" y2="288.7" stroke="#000" stroke-width="1.1" stroke-linecap="butt"/>
<text x="0" y="0" transform="translate(123.7 292.4) rotate(-60)" font-size="6.65" font-weight="bold" text-anchor="end" fill="#000" stroke="#000" stroke-width="0.25">SUCNR1 N8A</text>
<line x1="143.5" y1="260.81" x2="143.5" y2="257.5" stroke="#000" stroke-width="1" stroke-linecap="butt"/>
<line x1="140" y1="257.5" x2="147" y2="257.5" stroke="#000" stroke-width="1" stroke-linecap="butt"/>
<rect x="137.05" y="261.46" width="13.4" height="24.04" fill="#fff" stroke="#000" stroke-width="1.3"/>
<line x1="143.5" y1="285.5" x2="143.5" y2="288.7" stroke="#000" stroke-width="1.1" stroke-linecap="butt"/>
<text x="0" y="0" transform="translate(146.45 292.4) rotate(-60)" font-size="6.65" font-weight="bold" text-anchor="end" fill="#000" stroke="#000" stroke-width="0.25">NT</text>
<line x1="166.5" y1="216.02" x2="166.5" y2="208.5" stroke="#000" stroke-width="1" stroke-linecap="butt"/>
<line x1="163" y1="208.5" x2="170" y2="208.5" stroke="#000" stroke-width="1" stroke-linecap="butt"/>
<rect x="159.55" y="216.67" width="13.7" height="68.83" fill="#000" stroke="#000" stroke-width="1.3"/>
<line x1="166.5" y1="285.5" x2="166.5" y2="288.7" stroke="#000" stroke-width="1.1" stroke-linecap="butt"/>
<text x="0" y="0" transform="translate(169.1 292.4) rotate(-60)" font-size="6.65" font-weight="bold" text-anchor="end" fill="#000" stroke="#000" stroke-width="0.25">SUCNR1</text>
<line x1="188.5" y1="253.38" x2="188.5" y2="250.5" stroke="#000" stroke-width="1" stroke-linecap="butt"/>
<line x1="185" y1="250.5" x2="192" y2="250.5" stroke="#000" stroke-width="1" stroke-linecap="butt"/>
<rect x="181.75" y="254.03" width="13.5" height="31.47" fill="#b2b2b2" stroke="#000" stroke-width="1.3"/>
<line x1="188.5" y1="285.5" x2="188.5" y2="288.7" stroke="#000" stroke-width="1.1" stroke-linecap="butt"/>
<text x="0" y="0" transform="translate(191.2 292.4) rotate(-60)" font-size="6.65" font-weight="bold" text-anchor="end" fill="#000" stroke="#000" stroke-width="0.25">SUCNR1 N8A</text>
<line x1="64.7" y1="197.3" x2="64.7" y2="286.3" stroke="#000" stroke-width="1.6" stroke-linecap="butt"/>
<line x1="63.9" y1="285.5" x2="200.4" y2="285.5" stroke="#000" stroke-width="1.6" stroke-linecap="butt"/>
<line x1="61.6" y1="285.5" x2="64.7" y2="285.5" stroke="#000" stroke-width="1.3" stroke-linecap="butt"/>
<text x="0" y="0" transform="translate(60.7 288.05) rotate(0.1)" font-size="6.2" font-weight="bold" text-anchor="end" fill="#000" stroke="#000" stroke-width="0.15">0</text>
<line x1="61.6" y1="263.65" x2="64.7" y2="263.65" stroke="#000" stroke-width="1.3" stroke-linecap="butt"/>
<text x="0" y="0" transform="translate(60.7 266.2) rotate(0.1)" font-size="6.2" font-weight="bold" text-anchor="end" fill="#000" stroke="#000" stroke-width="0.15">1</text>
<line x1="61.6" y1="241.8" x2="64.7" y2="241.8" stroke="#000" stroke-width="1.3" stroke-linecap="butt"/>
<text x="0" y="0" transform="translate(60.7 244.35) rotate(0.1)" font-size="6.2" font-weight="bold" text-anchor="end" fill="#000" stroke="#000" stroke-width="0.15">2</text>
<line x1="61.6" y1="219.95" x2="64.7" y2="219.95" stroke="#000" stroke-width="1.3" stroke-linecap="butt"/>
<text x="0" y="0" transform="translate(60.7 222.5) rotate(0.1)" font-size="6.2" font-weight="bold" text-anchor="end" fill="#000" stroke="#000" stroke-width="0.15">3</text>
<line x1="61.6" y1="198.1" x2="64.7" y2="198.1" stroke="#000" stroke-width="1.3" stroke-linecap="butt"/>
<text x="0" y="0" transform="translate(60.7 200.65) rotate(0.1)" font-size="6.2" font-weight="bold" text-anchor="end" fill="#000" stroke="#000" stroke-width="0.15">4</text>
<text x="0" y="0" transform="translate(40.4 237.5) rotate(-90)" font-size="5.4" font-weight="bold" text-anchor="middle" fill="#000" letter-spacing="0.5" stroke="#000" stroke-width="0.15">Relative expression of <tspan font-style="italic">VEGFA</tspan></text>
<text x="0" y="0" transform="translate(47.7 237.5) rotate(-90)" font-size="5.4" font-weight="bold" text-anchor="middle" fill="#000" letter-spacing="0.5" stroke="#000" stroke-width="0.15">(Normalised to 18S)</text>
<rect x="206.95" y="202.95" width="8.2" height="2.9" fill="#fff" stroke="#000" stroke-width="1.3"/>
<text x="0" y="0" transform="translate(220.5 206.9) rotate(0.1)" font-size="7" font-weight="normal" text-anchor="start" fill="#000" stroke="#000" stroke-width="0.12">NT</text>
<rect x="206.95" y="214.55" width="8.2" height="2.9" fill="#000" stroke="#000" stroke-width="1.3"/>
<text x="0" y="0" transform="translate(220.5 218.5) rotate(0.1)" font-size="7" font-weight="normal" text-anchor="start" fill="#000" stroke="#000" stroke-width="0.12">SUCNR1</text>
<rect x="206.95" y="225.75" width="8.2" height="2.9" fill="#b2b2b2" stroke="#000" stroke-width="1.3"/>
<text x="0" y="0" transform="translate(220.5 229.7) rotate(0.1)" font-size="7" font-weight="normal" text-anchor="start" fill="#000" stroke="#000" stroke-width="0.12">SUCNR1 N8A</text>
<line x1="141" y1="333.45" x2="195.5" y2="333.45" stroke="#000" stroke-width="1.1" stroke-linecap="butt"/>
<text x="0" y="0" transform="translate(167.9 344.9) rotate(0.1)" font-size="7.2" font-weight="bold" text-anchor="middle" fill="#000" stroke="#000" stroke-width="0.14">+ Succinate</text>
<path d="M98.5 239 V187.5 H166.5 V191.8" fill="none" stroke="#111" stroke-width="1.15"/>
<path d="M166.5 202.8 V200 H188.5 V239.2" fill="none" stroke="#111" stroke-width="1.15"/>
<text x="0" y="0" transform="translate(132.65 186.1) rotate(0.1)" font-size="10.5" font-weight="bold" text-anchor="middle" fill="#000" letter-spacing="0.9" stroke="#000" stroke-width="0.45">***</text>
<text x="0" y="0" transform="translate(177.35 199.1) rotate(0.1)" font-size="10.5" font-weight="bold" text-anchor="middle" fill="#000" letter-spacing="0.9" stroke="#000" stroke-width="0.45">***</text>
<text font-family='"DejaVu Sans", "Liberation Sans", sans-serif' font-weight="bold" fill="#000" stroke="#000" stroke-width="0.3"><tspan x="259.89" y="186.25" font-size="16.4">(</tspan><tspan x="268.88" y="185.3" font-size="14.4">D</tspan><tspan x="281.99" y="186.25" font-size="16.4">)</tspan></text>
<line x1="331.5" y1="267.17" x2="331.5" y2="262.5" stroke="#000" stroke-width="1" stroke-linecap="butt"/>
<line x1="328" y1="262.5" x2="335" y2="262.5" stroke="#000" stroke-width="1" stroke-linecap="butt"/>
<rect x="325.15" y="267.82" width="13.3" height="16.38" fill="#fff" stroke="#000" stroke-width="1.3"/>
<line x1="331.5" y1="284.2" x2="331.5" y2="287.4" stroke="#000" stroke-width="1.1" stroke-linecap="butt"/>
<text x="0" y="0" transform="translate(334.5 291.1) rotate(-60)" font-size="6.65" font-weight="bold" text-anchor="end" fill="#000" stroke="#000" stroke-width="0.25">NT</text>
<line x1="354.5" y1="264.18" x2="354.5" y2="258.5" stroke="#000" stroke-width="1" stroke-linecap="butt"/>
<line x1="351" y1="258.5" x2="358" y2="258.5" stroke="#000" stroke-width="1" stroke-linecap="butt"/>
<rect x="347.65" y="264.83" width="13.4" height="19.37" fill="#000" stroke="#000" stroke-width="1.3"/>
<line x1="354.5" y1="284.2" x2="354.5" y2="287.4" stroke="#000" stroke-width="1.1" stroke-linecap="butt"/>
<text x="0" y="0" transform="translate(357.05 291.1) rotate(-60)" font-size="6.65" font-weight="bold" text-anchor="end" fill="#000" stroke="#000" stroke-width="0.25">SUCNR1</text>
<line x1="376.5" y1="259.09" x2="376.5" y2="255.5" stroke="#000" stroke-width="1" stroke-linecap="butt"/>
<line x1="373" y1="255.5" x2="380" y2="255.5" stroke="#000" stroke-width="1" stroke-linecap="butt"/>
<rect x="370.25" y="259.74" width="13.4" height="24.46" fill="#b2b2b2" stroke="#000" stroke-width="1.3"/>
<line x1="376.5" y1="284.2" x2="376.5" y2="287.4" stroke="#000" stroke-width="1.1" stroke-linecap="butt"/>
<text x="0" y="0" transform="translate(379.65 291.1) rotate(-60)" font-size="6.65" font-weight="bold" text-anchor="end" fill="#000" stroke="#000" stroke-width="0.25">SUCNR1 N8A</text>
<line x1="399.5" y1="270.33" x2="399.5" y2="267.5" stroke="#000" stroke-width="1" stroke-linecap="butt"/>
<line x1="396" y1="267.5" x2="403" y2="267.5" stroke="#000" stroke-width="1" stroke-linecap="butt"/>
<rect x="392.65" y="270.98" width="13.2" height="13.22" fill="#fff" stroke="#000" stroke-width="1.3"/>
<line x1="399.5" y1="284.2" x2="399.5" y2="287.4" stroke="#000" stroke-width="1.1" stroke-linecap="butt"/>
<text x="0" y="0" transform="translate(401.95 291.1) rotate(-60)" font-size="6.65" font-weight="bold" text-anchor="end" fill="#000" stroke="#000" stroke-width="0.25">NT</text>
<line x1="421.5" y1="236.96" x2="421.5" y2="231.5" stroke="#000" stroke-width="1" stroke-linecap="butt"/>
<line x1="418" y1="231.5" x2="425" y2="231.5" stroke="#000" stroke-width="1" stroke-linecap="butt"/>
<rect x="415.25" y="237.61" width="13.5" height="46.59" fill="#000" stroke="#000" stroke-width="1.3"/>
<line x1="421.5" y1="284.2" x2="421.5" y2="287.4" stroke="#000" stroke-width="1.1" stroke-linecap="butt"/>
<text x="0" y="0" transform="translate(424.7 291.1) rotate(-60)" font-size="6.65" font-weight="bold" text-anchor="end" fill="#000" stroke="#000" stroke-width="0.25">SUCNR1</text>
<line x1="444.5" y1="212.2" x2="444.5" y2="205.5" stroke="#000" stroke-width="1" stroke-linecap="butt"/>
<line x1="441" y1="205.5" x2="448" y2="205.5" stroke="#000" stroke-width="1" stroke-linecap="butt"/>
<rect x="438.25" y="212.85" width="13.4" height="71.35" fill="#b2b2b2" stroke="#000" stroke-width="1.3"/>
<line x1="444.5" y1="284.2" x2="444.5" y2="287.4" stroke="#000" stroke-width="1.1" stroke-linecap="butt"/>
<text x="0" y="0" transform="translate(447.65 291.1) rotate(-60)" font-size="6.65" font-weight="bold" text-anchor="end" fill="#000" stroke="#000" stroke-width="0.25">SUCNR1 N8A</text>
<line x1="320.6" y1="195.6" x2="320.6" y2="285" stroke="#000" stroke-width="1.6" stroke-linecap="butt"/>
<line x1="319.8" y1="284.2" x2="456.5" y2="284.2" stroke="#000" stroke-width="1.6" stroke-linecap="butt"/>
<line x1="317.5" y1="284.2" x2="320.6" y2="284.2" stroke="#000" stroke-width="1.3" stroke-linecap="butt"/>
<text x="0" y="0" transform="translate(316.6 286.75) rotate(0.1)" font-size="6.2" font-weight="bold" text-anchor="end" fill="#000" stroke="#000" stroke-width="0.15">0</text>
<line x1="317.5" y1="266.64" x2="320.6" y2="266.64" stroke="#000" stroke-width="1.3" stroke-linecap="butt"/>
<text x="0" y="0" transform="translate(316.6 269.19) rotate(0.1)" font-size="6.2" font-weight="bold" text-anchor="end" fill="#000" stroke="#000" stroke-width="0.15">1</text>
<line x1="317.5" y1="249.08" x2="320.6" y2="249.08" stroke="#000" stroke-width="1.3" stroke-linecap="butt"/>
<text x="0" y="0" transform="translate(316.6 251.63) rotate(0.1)" font-size="6.2" font-weight="bold" text-anchor="end" fill="#000" stroke="#000" stroke-width="0.15">2</text>
<line x1="317.5" y1="231.52" x2="320.6" y2="231.52" stroke="#000" stroke-width="1.3" stroke-linecap="butt"/>
<text x="0" y="0" transform="translate(316.6 234.07) rotate(0.1)" font-size="6.2" font-weight="bold" text-anchor="end" fill="#000" stroke="#000" stroke-width="0.15">3</text>
<line x1="317.5" y1="213.96" x2="320.6" y2="213.96" stroke="#000" stroke-width="1.3" stroke-linecap="butt"/>
<text x="0" y="0" transform="translate(316.6 216.51) rotate(0.1)" font-size="6.2" font-weight="bold" text-anchor="end" fill="#000" stroke="#000" stroke-width="0.15">4</text>
<line x1="317.5" y1="196.4" x2="320.6" y2="196.4" stroke="#000" stroke-width="1.3" stroke-linecap="butt"/>
<text x="0" y="0" transform="translate(316.6 198.95) rotate(0.1)" font-size="6.2" font-weight="bold" text-anchor="end" fill="#000" stroke="#000" stroke-width="0.15">5</text>
<text x="0" y="0" transform="translate(296.6 236) rotate(-90)" font-size="5.4" font-weight="bold" text-anchor="middle" fill="#000" letter-spacing="0.5" stroke="#000" stroke-width="0.15">Relative expression of <tspan font-style="italic">ANGPT1</tspan></text>
<text x="0" y="0" transform="translate(303.9 236) rotate(-90)" font-size="5.4" font-weight="bold" text-anchor="middle" fill="#000" letter-spacing="0.5" stroke="#000" stroke-width="0.15">(Normalised to 18S)</text>
<rect x="463.15" y="201.45" width="8.2" height="2.9" fill="#fff" stroke="#000" stroke-width="1.3"/>
<text x="0" y="0" transform="translate(476.5 205.4) rotate(0.1)" font-size="7" font-weight="normal" text-anchor="start" fill="#000" stroke="#000" stroke-width="0.12">NT</text>
<rect x="463.15" y="213.25" width="8.2" height="2.9" fill="#000" stroke="#000" stroke-width="1.3"/>
<text x="0" y="0" transform="translate(476.5 217.2) rotate(0.1)" font-size="7" font-weight="normal" text-anchor="start" fill="#000" stroke="#000" stroke-width="0.12">SUCNR1</text>
<rect x="463.15" y="224.95" width="8.2" height="2.9" fill="#b2b2b2" stroke="#000" stroke-width="1.3"/>
<text x="0" y="0" transform="translate(476.5 228.9) rotate(0.1)" font-size="7" font-weight="normal" text-anchor="start" fill="#000" stroke="#000" stroke-width="0.12">SUCNR1 N8A</text>
<line x1="395" y1="333.45" x2="449.5" y2="333.45" stroke="#000" stroke-width="1.1" stroke-linecap="butt"/>
<text x="0" y="0" transform="translate(421.5 344.9) rotate(0.1)" font-size="7.2" font-weight="bold" text-anchor="middle" fill="#000" stroke="#000" stroke-width="0.14">+ Succinate</text>
<path d="M376.5 211.4 V187.5 H444.5 V193" fill="none" stroke="#111" stroke-width="1.15"/>
<path d="M354.5 240.3 V224.4 H421.5 V226.8" fill="none" stroke="#111" stroke-width="1.15"/>
<path d="M421.5 216.3 V199.4 H444.5 V201" fill="none" stroke="#111" stroke-width="1.15"/>
<text x="0" y="0" transform="translate(411.05 186.6) rotate(0.1)" font-size="10.5" font-weight="bold" text-anchor="middle" fill="#000" letter-spacing="0.9" stroke="#000" stroke-width="0.45">***</text>
<text x="0" y="0" transform="translate(388.45 223) rotate(0.1)" font-size="10.5" font-weight="bold" text-anchor="middle" fill="#000" letter-spacing="0.9" stroke="#000" stroke-width="0.45">*</text>
<text x="0" y="0" transform="translate(433.15 197.9) rotate(0.1)" font-size="10.5" font-weight="bold" text-anchor="middle" fill="#000" letter-spacing="0.9" stroke="#000" stroke-width="0.45">*</text>
<text font-family='"DejaVu Sans", "Liberation Sans", sans-serif' font-weight="bold" fill="#000" stroke="#000" stroke-width="0.3"><tspan x="5.29" y="385.05" font-size="16.4">(</tspan><tspan x="14.28" y="384.1" font-size="14.4">E</tspan><tspan x="24.69" y="385.05" font-size="16.4">)</tspan></text>
<line x1="79.5" y1="450.93" x2="79.5" y2="449.5" stroke="#000" stroke-width="1" stroke-linecap="butt"/>
<line x1="76" y1="449.5" x2="83" y2="449.5" stroke="#000" stroke-width="1" stroke-linecap="butt"/>
<rect x="72.75" y="451.58" width="13.3" height="33.92" fill="#fff" stroke="#000" stroke-width="1.3"/>
<line x1="79.5" y1="485.5" x2="79.5" y2="488.7" stroke="#000" stroke-width="1.1" stroke-linecap="butt"/>
<text x="0" y="0" transform="translate(82.1 492.4) rotate(-60)" font-size="6.65" font-weight="bold" text-anchor="end" fill="#000" stroke="#000" stroke-width="0.25">NT</text>
<line x1="101.5" y1="451.1" x2="101.5" y2="450.5" stroke="#000" stroke-width="1" stroke-linecap="butt"/>
<line x1="98" y1="450.5" x2="105" y2="450.5" stroke="#000" stroke-width="1" stroke-linecap="butt"/>
<rect x="95.25" y="451.75" width="13.3" height="33.75" fill="#000" stroke="#000" stroke-width="1.3"/>
<line x1="101.5" y1="485.5" x2="101.5" y2="488.7" stroke="#000" stroke-width="1.1" stroke-linecap="butt"/>
<text x="0" y="0" transform="translate(104.6 492.4) rotate(-60)" font-size="6.65" font-weight="bold" text-anchor="end" fill="#000" stroke="#000" stroke-width="0.25">SUCNR1</text>
<line x1="124.5" y1="448.31" x2="124.5" y2="446.5" stroke="#000" stroke-width="1" stroke-linecap="butt"/>
<line x1="121" y1="446.5" x2="128" y2="446.5" stroke="#000" stroke-width="1" stroke-linecap="butt"/>
<rect x="117.75" y="448.96" width="13.4" height="36.54" fill="#b2b2b2" stroke="#000" stroke-width="1.3"/>
<line x1="124.5" y1="485.5" x2="124.5" y2="488.7" stroke="#000" stroke-width="1.1" stroke-linecap="butt"/>
<text x="0" y="0" transform="translate(127.15 492.4) rotate(-60)" font-size="6.65" font-weight="bold" text-anchor="end" fill="#000" stroke="#000" stroke-width="0.25">SUCNR1 N8A</text>
<line x1="146.5" y1="449.18" x2="146.5" y2="446.5" stroke="#000" stroke-width="1" stroke-linecap="butt"/>
<line x1="143" y1="446.5" x2="150" y2="446.5" stroke="#000" stroke-width="1" stroke-linecap="butt"/>
<rect x="140.25" y="449.83" width="13.5" height="35.67" fill="#fff" stroke="#000" stroke-width="1.3"/>
<line x1="146.5" y1="485.5" x2="146.5" y2="488.7" stroke="#000" stroke-width="1.1" stroke-linecap="butt"/>
<text x="0" y="0" transform="translate(149.7 492.4) rotate(-60)" font-size="6.65" font-weight="bold" text-anchor="end" fill="#000" stroke="#000" stroke-width="0.25">NT</text>
<line x1="169.5" y1="427.88" x2="169.5" y2="425.5" stroke="#000" stroke-width="1" stroke-linecap="butt"/>
<line x1="166" y1="425.5" x2="173" y2="425.5" stroke="#000" stroke-width="1" stroke-linecap="butt"/>
<rect x="162.85" y="428.53" width="13.5" height="56.97" fill="#000" stroke="#000" stroke-width="1.3"/>
<line x1="169.5" y1="485.5" x2="169.5" y2="488.7" stroke="#000" stroke-width="1.1" stroke-linecap="butt"/>
<text x="0" y="0" transform="translate(172.3 492.4) rotate(-60)" font-size="6.65" font-weight="bold" text-anchor="end" fill="#000" stroke="#000" stroke-width="0.25">SUCNR1</text>
<line x1="192.5" y1="407.28" x2="192.5" y2="402.5" stroke="#000" stroke-width="1" stroke-linecap="butt"/>
<line x1="189" y1="402.5" x2="196" y2="402.5" stroke="#000" stroke-width="1" stroke-linecap="butt"/>
<rect x="185.35" y="407.93" width="13.7" height="77.57" fill="#b2b2b2" stroke="#000" stroke-width="1.3"/>
<line x1="192.5" y1="485.5" x2="192.5" y2="488.7" stroke="#000" stroke-width="1.1" stroke-linecap="butt"/>
<text x="0" y="0" transform="translate(194.9 492.4) rotate(-60)" font-size="6.65" font-weight="bold" text-anchor="end" fill="#000" stroke="#000" stroke-width="0.25">SUCNR1 N8A</text>
<line x1="68.3" y1="397.4" x2="68.3" y2="486.3" stroke="#000" stroke-width="1.6" stroke-linecap="butt"/>
<line x1="67.5" y1="485.5" x2="204.1" y2="485.5" stroke="#000" stroke-width="1.6" stroke-linecap="butt"/>
<line x1="65.2" y1="485.5" x2="68.3" y2="485.5" stroke="#000" stroke-width="1.3" stroke-linecap="butt"/>
<text x="0" y="0" transform="translate(64.3 488.05) rotate(0.1)" font-size="6.2" font-weight="bold" text-anchor="end" fill="#000" stroke="#000" stroke-width="0.15">0.0</text>
<line x1="65.2" y1="468.04" x2="68.3" y2="468.04" stroke="#000" stroke-width="1.3" stroke-linecap="butt"/>
<text x="0" y="0" transform="translate(64.3 470.59) rotate(0.1)" font-size="6.2" font-weight="bold" text-anchor="end" fill="#000" stroke="#000" stroke-width="0.15">0.5</text>
<line x1="65.2" y1="450.58" x2="68.3" y2="450.58" stroke="#000" stroke-width="1.3" stroke-linecap="butt"/>
<text x="0" y="0" transform="translate(64.3 453.13) rotate(0.1)" font-size="6.2" font-weight="bold" text-anchor="end" fill="#000" stroke="#000" stroke-width="0.15">1.0</text>
<line x1="65.2" y1="433.12" x2="68.3" y2="433.12" stroke="#000" stroke-width="1.3" stroke-linecap="butt"/>
<text x="0" y="0" transform="translate(64.3 435.67) rotate(0.1)" font-size="6.2" font-weight="bold" text-anchor="end" fill="#000" stroke="#000" stroke-width="0.15">1.5</text>
<line x1="65.2" y1="415.66" x2="68.3" y2="415.66" stroke="#000" stroke-width="1.3" stroke-linecap="butt"/>
<text x="0" y="0" transform="translate(64.3 418.21) rotate(0.1)" font-size="6.2" font-weight="bold" text-anchor="end" fill="#000" stroke="#000" stroke-width="0.15">2.0</text>
<line x1="65.2" y1="398.2" x2="68.3" y2="398.2" stroke="#000" stroke-width="1.3" stroke-linecap="butt"/>
<text x="0" y="0" transform="translate(64.3 400.75) rotate(0.1)" font-size="6.2" font-weight="bold" text-anchor="end" fill="#000" stroke="#000" stroke-width="0.15">2.5</text>
<text x="0" y="0" transform="translate(38.3 437.55) rotate(-90)" font-size="5.4" font-weight="bold" text-anchor="middle" fill="#000" letter-spacing="0.5" stroke="#000" stroke-width="0.15">Relative expression of <tspan font-style="italic">ANGPT2</tspan></text>
<text x="0" y="0" transform="translate(45.6 437.55) rotate(-90)" font-size="5.4" font-weight="bold" text-anchor="middle" fill="#000" letter-spacing="0.5" stroke="#000" stroke-width="0.15">(Normalised to 18S)</text>
<rect x="210.05" y="402.55" width="8.2" height="2.9" fill="#fff" stroke="#000" stroke-width="1.3"/>
<text x="0" y="0" transform="translate(223.6 406.5) rotate(0.1)" font-size="7" font-weight="normal" text-anchor="start" fill="#000" stroke="#000" stroke-width="0.12">NT</text>
<rect x="210.05" y="414.25" width="8.2" height="2.9" fill="#000" stroke="#000" stroke-width="1.3"/>
<text x="0" y="0" transform="translate(223.6 418.2) rotate(0.1)" font-size="7" font-weight="normal" text-anchor="start" fill="#000" stroke="#000" stroke-width="0.12">SUCNR1</text>
<rect x="210.05" y="426.35" width="8.2" height="2.9" fill="#b2b2b2" stroke="#000" stroke-width="1.3"/>
<text x="0" y="0" transform="translate(223.6 430.3) rotate(0.1)" font-size="7" font-weight="normal" text-anchor="start" fill="#000" stroke="#000" stroke-width="0.12">SUCNR1 N8A</text>
<line x1="142" y1="533.4" x2="196.7" y2="533.4" stroke="#000" stroke-width="1.1" stroke-linecap="butt"/>
<text x="0" y="0" transform="translate(168.8 545) rotate(0.1)" font-size="7.2" font-weight="bold" text-anchor="middle" fill="#000" stroke="#000" stroke-width="0.14">+ Succinate</text>
<path d="M124.5 397.2 V383.9 H191.5 V389.5" fill="none" stroke="#111" stroke-width="1.15"/>
<path d="M101.5 432.8 V415.4 H169.5 V421.7" fill="none" stroke="#111" stroke-width="1.15"/>
<path d="M169.5 410.7 V397 H192.5 V398.4" fill="none" stroke="#111" stroke-width="1.15"/>
<text x="0" y="0" transform="translate(158.15 383.6) rotate(0.1)" font-size="10.5" font-weight="bold" text-anchor="middle" fill="#000" letter-spacing="0.9" stroke="#000" stroke-width="0.45">***</text>
<text x="0" y="0" transform="translate(181.25 396.2) rotate(0.1)" font-size="10.5" font-weight="bold" text-anchor="middle" fill="#000" letter-spacing="0.9" stroke="#000" stroke-width="0.45">***</text>
<text x="0" y="0" transform="translate(135.55 414.7) rotate(0.1)" font-size="10.5" font-weight="bold" text-anchor="middle" fill="#000" letter-spacing="0.9" stroke="#000" stroke-width="0.45">***</text>
<text font-family='"DejaVu Sans", "Liberation Sans", sans-serif' font-weight="bold" fill="#000" stroke="#000" stroke-width="0.3"><tspan x="260.09" y="384.85" font-size="16.4">(</tspan><tspan x="269.08" y="383.9" font-size="14.4">F</tspan><tspan x="278.89" y="384.85" font-size="16.4">)</tspan></text>
<line x1="333.5" y1="454.93" x2="333.5" y2="453.5" stroke="#000" stroke-width="1" stroke-linecap="butt"/>
<line x1="330" y1="453.5" x2="337" y2="453.5" stroke="#000" stroke-width="1" stroke-linecap="butt"/>
<rect x="326.45" y="455.58" width="13.6" height="28.62" fill="#fff" stroke="#000" stroke-width="1.3"/>
<line x1="333.5" y1="484.2" x2="333.5" y2="487.4" stroke="#000" stroke-width="1.1" stroke-linecap="butt"/>
<text x="0" y="0" transform="translate(335.95 491.1) rotate(-60)" font-size="6.65" font-weight="bold" text-anchor="end" fill="#000" stroke="#000" stroke-width="0.25">NT</text>
<line x1="355.5" y1="447.91" x2="355.5" y2="446.5" stroke="#000" stroke-width="1" stroke-linecap="butt"/>
<line x1="352" y1="446.5" x2="359" y2="446.5" stroke="#000" stroke-width="1" stroke-linecap="butt"/>
<rect x="349.25" y="448.56" width="13.5" height="35.64" fill="#000" stroke="#000" stroke-width="1.3"/>
<line x1="355.5" y1="484.2" x2="355.5" y2="487.4" stroke="#000" stroke-width="1.1" stroke-linecap="butt"/>
<text x="0" y="0" transform="translate(358.7 491.1) rotate(-60)" font-size="6.65" font-weight="bold" text-anchor="end" fill="#000" stroke="#000" stroke-width="0.25">SUCNR1</text>
<line x1="378.5" y1="442.06" x2="378.5" y2="441.5" stroke="#000" stroke-width="1" stroke-linecap="butt"/>
<line x1="375" y1="441.5" x2="382" y2="441.5" stroke="#000" stroke-width="1" stroke-linecap="butt"/>
<rect x="371.85" y="442.71" width="13.5" height="41.49" fill="#b2b2b2" stroke="#000" stroke-width="1.3"/>
<line x1="378.5" y1="484.2" x2="378.5" y2="487.4" stroke="#000" stroke-width="1.1" stroke-linecap="butt"/>
<text x="0" y="0" transform="translate(381.3 491.1) rotate(-60)" font-size="6.65" font-weight="bold" text-anchor="end" fill="#000" stroke="#000" stroke-width="0.25">SUCNR1 N8A</text>
<line x1="401.5" y1="454.93" x2="401.5" y2="452.5" stroke="#000" stroke-width="1" stroke-linecap="butt"/>
<line x1="398" y1="452.5" x2="405" y2="452.5" stroke="#000" stroke-width="1" stroke-linecap="butt"/>
<rect x="394.45" y="455.58" width="13.4" height="28.62" fill="#fff" stroke="#000" stroke-width="1.3"/>
<line x1="401.5" y1="484.2" x2="401.5" y2="487.4" stroke="#000" stroke-width="1.1" stroke-linecap="butt"/>
<text x="0" y="0" transform="translate(403.85 491.1) rotate(-60)" font-size="6.65" font-weight="bold" text-anchor="end" fill="#000" stroke="#000" stroke-width="0.25">NT</text>
<line x1="423.5" y1="431.52" x2="423.5" y2="429.5" stroke="#000" stroke-width="1" stroke-linecap="butt"/>
<line x1="420" y1="429.5" x2="427" y2="429.5" stroke="#000" stroke-width="1" stroke-linecap="butt"/>
<rect x="416.95" y="432.17" width="13.4" height="52.03" fill="#000" stroke="#000" stroke-width="1.3"/>
<line x1="423.5" y1="484.2" x2="423.5" y2="487.4" stroke="#000" stroke-width="1.1" stroke-linecap="butt"/>
<text x="0" y="0" transform="translate(426.35 491.1) rotate(-60)" font-size="6.65" font-weight="bold" text-anchor="end" fill="#000" stroke="#000" stroke-width="0.25">SUCNR1</text>
<line x1="446.5" y1="404.59" x2="446.5" y2="400.5" stroke="#000" stroke-width="1" stroke-linecap="butt"/>
<line x1="443" y1="400.5" x2="450" y2="400.5" stroke="#000" stroke-width="1" stroke-linecap="butt"/>
<rect x="439.65" y="405.24" width="13.5" height="78.96" fill="#b2b2b2" stroke="#000" stroke-width="1.3"/>
<line x1="446.5" y1="484.2" x2="446.5" y2="487.4" stroke="#000" stroke-width="1.1" stroke-linecap="butt"/>
<text x="0" y="0" transform="translate(449.1 491.1) rotate(-60)" font-size="6.65" font-weight="bold" text-anchor="end" fill="#000" stroke="#000" stroke-width="0.25">SUCNR1 N8A</text>
<line x1="322.1" y1="395.6" x2="322.1" y2="485" stroke="#000" stroke-width="1.6" stroke-linecap="butt"/>
<line x1="321.3" y1="484.2" x2="457.8" y2="484.2" stroke="#000" stroke-width="1.6" stroke-linecap="butt"/>
<line x1="319" y1="484.2" x2="322.1" y2="484.2" stroke="#000" stroke-width="1.3" stroke-linecap="butt"/>
<text x="0" y="0" transform="translate(318.1 486.75) rotate(0.1)" font-size="6.2" font-weight="bold" text-anchor="end" fill="#000" stroke="#000" stroke-width="0.15">0</text>
<line x1="319" y1="454.93" x2="322.1" y2="454.93" stroke="#000" stroke-width="1.3" stroke-linecap="butt"/>
<text x="0" y="0" transform="translate(318.1 457.48) rotate(0.1)" font-size="6.2" font-weight="bold" text-anchor="end" fill="#000" stroke="#000" stroke-width="0.15">1</text>
<line x1="319" y1="425.67" x2="322.1" y2="425.67" stroke="#000" stroke-width="1.3" stroke-linecap="butt"/>
<text x="0" y="0" transform="translate(318.1 428.22) rotate(0.1)" font-size="6.2" font-weight="bold" text-anchor="end" fill="#000" stroke="#000" stroke-width="0.15">2</text>
<line x1="319" y1="396.4" x2="322.1" y2="396.4" stroke="#000" stroke-width="1.3" stroke-linecap="butt"/>
<text x="0" y="0" transform="translate(318.1 398.95) rotate(0.1)" font-size="6.2" font-weight="bold" text-anchor="end" fill="#000" stroke="#000" stroke-width="0.15">3</text>
<text x="0" y="0" transform="translate(298.4 435.1) rotate(-90)" font-size="5.4" font-weight="bold" text-anchor="middle" fill="#000" letter-spacing="0.5" stroke="#000" stroke-width="0.15">Relative expression of <tspan font-style="italic">FGF2</tspan></text>
<text x="0" y="0" transform="translate(305.2 435.1) rotate(-90)" font-size="5.4" font-weight="bold" text-anchor="middle" fill="#000" letter-spacing="0.5" stroke="#000" stroke-width="0.15">(Normalised to 18S)</text>
<rect x="464.85" y="401.15" width="8.2" height="2.9" fill="#fff" stroke="#000" stroke-width="1.3"/>
<text x="0" y="0" transform="translate(478.4 405.1) rotate(0.1)" font-size="7" font-weight="normal" text-anchor="start" fill="#000" stroke="#000" stroke-width="0.12">NT</text>
<rect x="464.85" y="413.45" width="8.2" height="2.9" fill="#000" stroke="#000" stroke-width="1.3"/>
<text x="0" y="0" transform="translate(478.4 417.4) rotate(0.1)" font-size="7" font-weight="normal" text-anchor="start" fill="#000" stroke="#000" stroke-width="0.12">SUCNR1</text>
<rect x="464.85" y="424.95" width="8.2" height="2.9" fill="#b2b2b2" stroke="#000" stroke-width="1.3"/>
<text x="0" y="0" transform="translate(478.4 428.9) rotate(0.1)" font-size="7" font-weight="normal" text-anchor="start" fill="#000" stroke="#000" stroke-width="0.12">SUCNR1 N8A</text>
<line x1="396.7" y1="533.4" x2="451.7" y2="533.4" stroke="#000" stroke-width="1.1" stroke-linecap="butt"/>
<text x="0" y="0" transform="translate(423.5 545) rotate(0.1)" font-size="7.2" font-weight="bold" text-anchor="middle" fill="#000" stroke="#000" stroke-width="0.14">+ Succinate</text>
<path d="M378.5 410.7 V378.2 H446.5 V383.1" fill="none" stroke="#111" stroke-width="1.15"/>
<path d="M356.5 432.8 V418.7 H423.5 V424.5" fill="none" stroke="#111" stroke-width="1.15"/>
<path d="M422.5 401.8 V391.9 H444.5 V394.6" fill="none" stroke="#111" stroke-width="1.15"/>
<text x="0" y="0" transform="translate(412.55 377.3) rotate(0.1)" font-size="10.5" font-weight="bold" text-anchor="middle" fill="#000" letter-spacing="0.9" stroke="#000" stroke-width="0.45">***</text>
<text x="0" y="0" transform="translate(434.45 391.3) rotate(0.1)" font-size="10.5" font-weight="bold" text-anchor="middle" fill="#000" letter-spacing="0.9" stroke="#000" stroke-width="0.45">***</text>
<text x="0" y="0" transform="translate(389.85 417.9) rotate(0.1)" font-size="10.5" font-weight="bold" text-anchor="middle" fill="#000" letter-spacing="0.9" stroke="#000" stroke-width="0.45">**</text>
</svg>
</body>
</html>
